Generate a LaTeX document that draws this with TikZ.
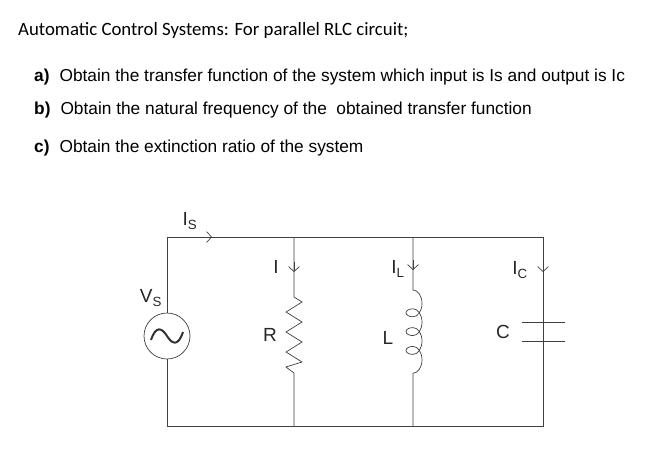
\documentclass[tikz,border=0pt]{standalone}
\usepackage{fontspec}
\setmainfont{Liberation Sans}
\newfontfamily\calib{Carlito}
\usetikzlibrary{decorations.pathmorphing,arrows.meta}
\begin{document}
\begin{tikzpicture}[x=1pt,y=-1pt,
  wire/.style={draw=black!75,line width=0.7pt},
  lbl/.style={font=\fontsize{19}{19}\selectfont,text=black!85,inner sep=0pt},
  item/.style={font=\fontsize{17.3}{18}\selectfont,anchor=west,inner sep=0pt},
  carr/.style={-{Straight Barb[length=5pt,width=11pt,line width=0.7pt]},draw=black!75,line width=0.7pt}]
\useasboundingbox (0,0) rectangle (659,453);
\node[anchor=west,inner sep=0pt,font=\calib\fontsize{18.8}{20}\selectfont] (title) at (18,30) {Automatic Control Systems: For parallel RLC circuit;};
\node[item] (ia) at (34,77) {\textbf{a)}\hspace{10pt}Obtain the transfer function of the system which input is Is and output is Ic};
\node[item] (ib) at (34,110) {\textbf{b)}\hspace{10pt}Obtain the natural frequency of the \ obtained transfer function};
\node[item] (ic) at (34,148) {\textbf{c)}\hspace{10pt}Obtain the extinction ratio of the system};
% nodes
\coordinate (tl) at (167,237); \coordinate (bl) at (167,426);
\coordinate (tr) at (294,237); \coordinate (br) at (294,426);
\coordinate (tlL) at (413,237); \coordinate (blL) at (413,426);
\coordinate (tc) at (543,237); \coordinate (bc) at (543,426);
\node[circle,draw=black!75,line width=0.7pt,minimum size=46pt,inner sep=0pt] (src) at (167,336) {};
\draw[line width=2pt,black!80] (151,340) .. controls (156,325) and (162,328) .. (167,336) .. controls (172,344) and (178,347) .. (183,332);
\draw[wire] (src.north) -- (tl) -- (tc) -- (bc) -- (bl) -- (src.south);
% resistor
\coordinate (r1) at (294,297); \coordinate (r2) at (294,373);
\draw[wire] (tr) -- (r1) -- (302,302) -- (286,312) -- (302,322) -- (286,332) -- (302,342) -- (286,352) -- (302,362) -- (286,367) -- (r2) -- (br);
% inductor
\coordinate (l1) at (413,290); \coordinate (l2) at (413,373);
\draw[wire] (tlL) -- (l1) arc (-90:90:9 and 13.4)
  arc (90:270:7 and 4) arc (-90:90:9 and 13.4)
  arc (90:270:7 and 4) arc (-90:90:9 and 13.4)
  arc (90:270:7 and 4) arc (-90:90:9 and 13.4) -- (blL);
% capacitor
\draw[wire] (tc) -- (543,322) (522,322) -- (565,322) (522,341) -- (565,341) (543,341) -- (bc);
\draw[carr] (200,237) -- (212,237);
\draw[carr] (294,262) -- (294,272);
\draw[carr] (413,260) -- (413,270);
\draw[carr] (543,262) -- (543,272);
% labels
\node[lbl] (lis) at (190,221) {I\textsubscript{S}};
\node[lbl] (li) at (276,267) {I};
\node[lbl] (lil) at (398,269) {I\textsubscript{L}};
\node[lbl] (lic) at (520,270) {I\textsubscript{C}};
\node[lbl] (lvs) at (151,298) {V\textsubscript{S}};
\node[lbl] (lr) at (270,335) {R};
\node[lbl] (ll) at (388,338) {L};
\node[lbl] (lc) at (503,332) {C};
\end{tikzpicture}
\end{document}
